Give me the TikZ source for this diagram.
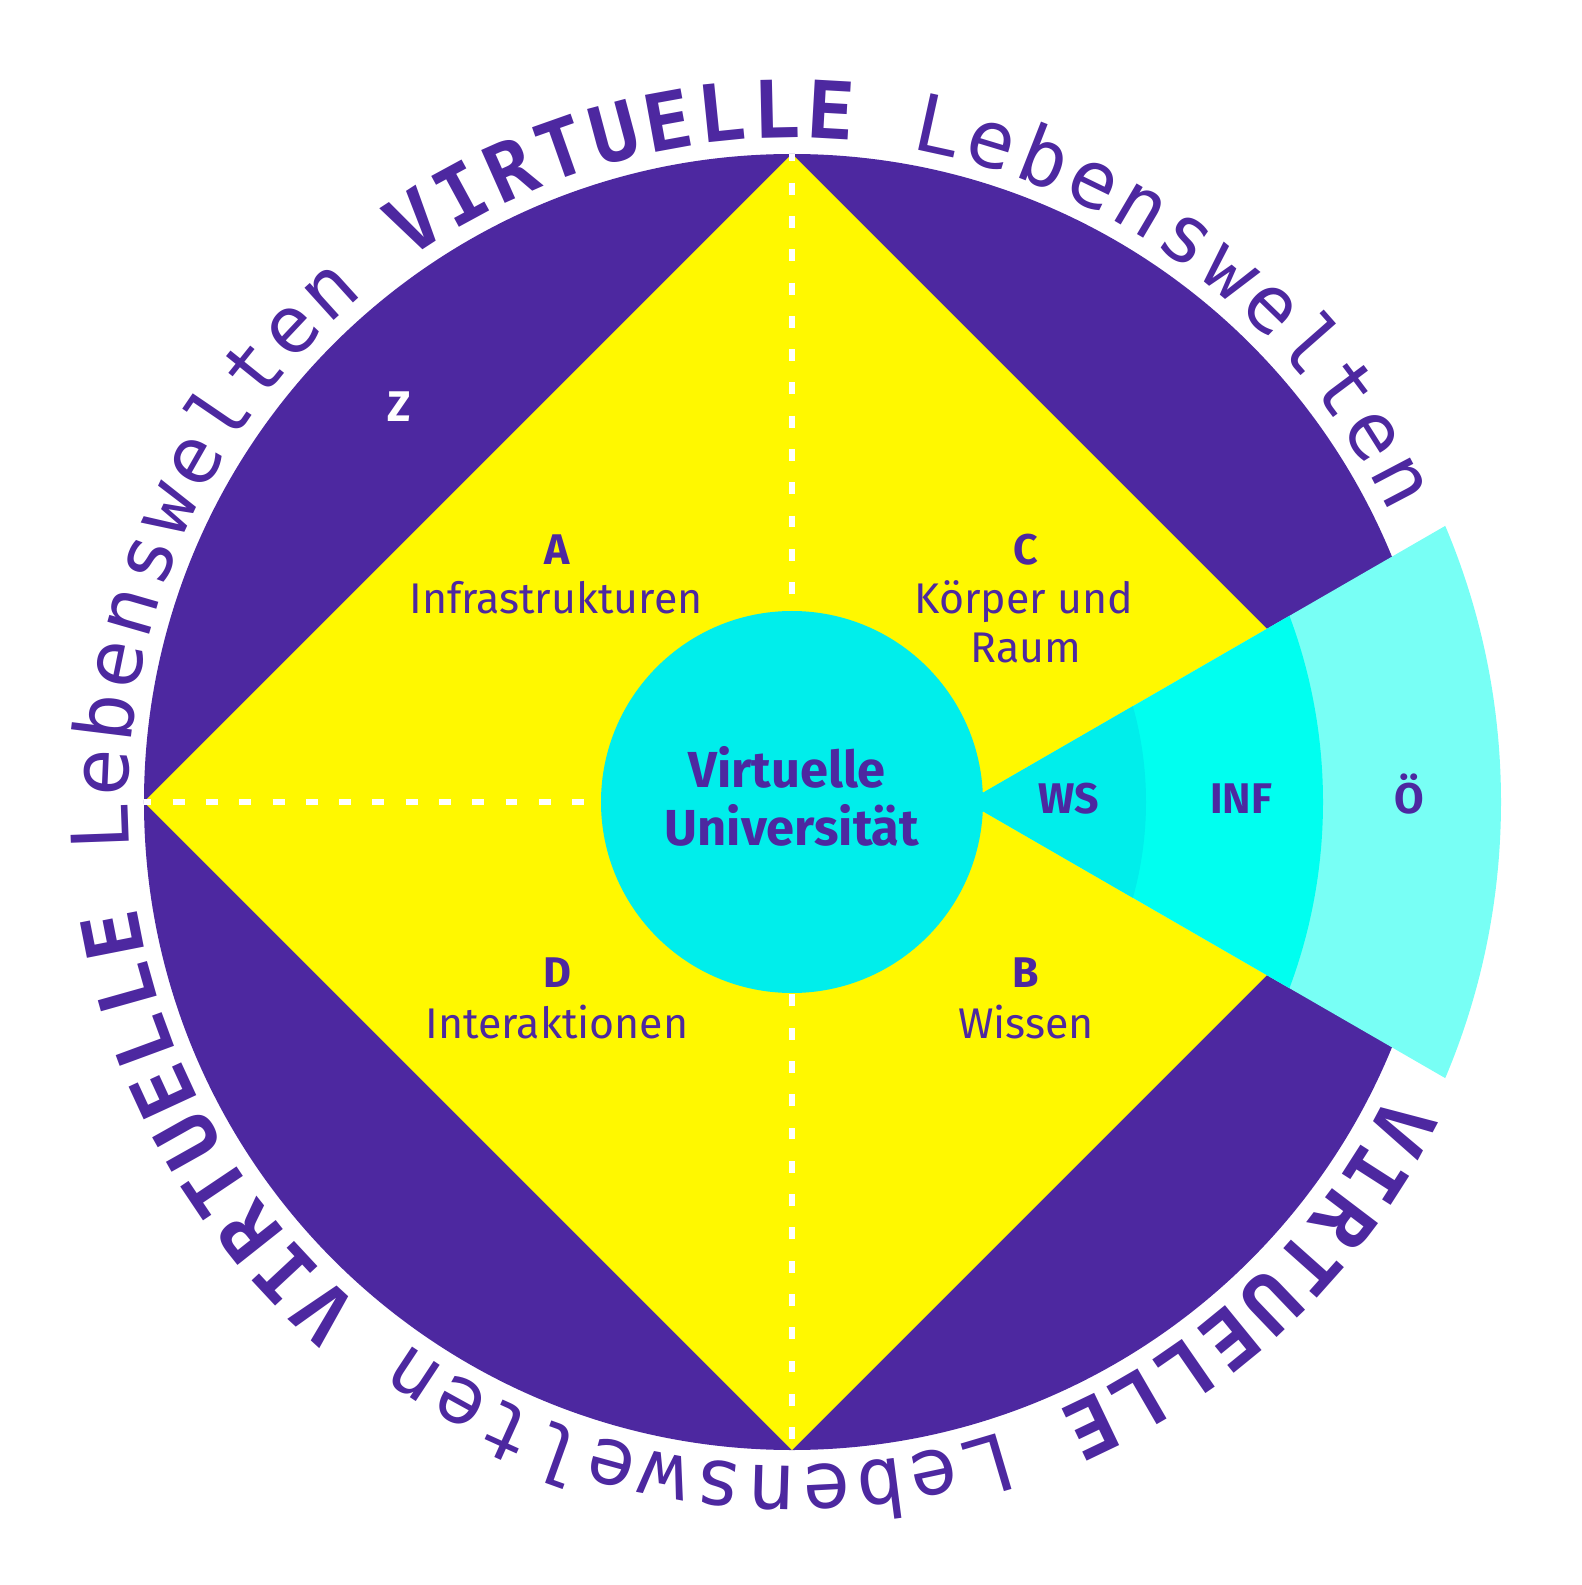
\documentclass[tikz,border=0pt]{standalone}
\usepackage{fontspec}
\setmainfont{Fira Sans}
\newfontfamily\ringfont{DejaVu Sans Mono}
\definecolor{lila}{RGB}{77,40,160}
\definecolor{gelb}{RGB}{255,248,0}
\definecolor{tuerkis}{RGB}{0,238,235}
\definecolor{cyanhell}{RGB}{0,255,240}
\definecolor{cyanblass}{RGB}{120,255,245}
\begin{document}
\begin{tikzpicture}[lbl/.style={text=lila, inner sep=0, anchor=base, font=\fontsize{12.2}{14}\selectfont},
    lblb/.style={lbl, font=\fontsize{12.2}{14}\selectfont\bfseries},
    ringreg/.style={text=lila, inner sep=0, anchor=base, font=\ringfont\fontsize{22.6}{26}\selectfont},
    ringbold/.style={ringreg, font=\ringfont\bfseries\fontsize{22.6}{26}\selectfont},
    strich/.style={white, line width=1.7pt, dash pattern=on 3.4pt off 6.07pt}]
    \useasboundingbox (-7.92,-7.83) rectangle (7.89,8.02);
    
    \fill[lila] (0,0) circle (6.48);
    \fill[gelb] (0,6.48)--(-6.48,0)--(0,-6.48)--(6.48,0)--cycle;
    
    \draw[strich, dash phase=1.3pt] (0,6.48)--(0,0);
    \draw[strich, dash phase=1.3pt] (-6.48,0)--(0,0);
    \draw[strich, dash phase=6.35pt] (0,-6.48)--(0,0);
    
    \begin{scope}
        \clip (1.75,0)--++(30:7)--++(0,-7)--cycle;
        \fill[cyanblass] (0,0) circle (7.09);
        \fill[cyanhell] (0,0) circle (5.31);
        \fill[tuerkis] (0,0) circle (3.54);
    \end{scope}
    \fill[tuerkis] (0,0) circle (1.91);
    
    \foreach \r in {0,1,2}
    {
        \foreach \c [count=\i from 0] in {V,I,R,T,U,E,L,L,E}
        {
            \pgfmathsetmacro\w{-28.1-4.54*(23*\r+\i)}
            \pgfmathsetmacro\rot{\w-90}
            \node[ringbold, rotate=\rot] (ring\r-\i) at (\w:6.64) {\c};
        }
        \foreach \c [count=\i from 10] in {L,e,b,e,n,s,w,e,l,t,e,n}
        {
            \pgfmathsetmacro\w{-28.1-4.54*(23*\r+\i)}
            \pgfmathsetmacro\rot{\w-90}
            \node[ringreg, rotate=\rot] (ring\r-\i) at (\w:6.64) {\c};
        }
    }
    
    \node[lblb, text=white] (z) at (-3.93,3.80) {Z};
    
    \node[lblb] (a) at (-2.35,2.37) {A};
    \node[lbl] (a1) at (-2.36,1.88) {Infrastrukturen};
    \node[lblb] (c) at (2.34,2.37) {C};
    \node[lbl] (c1) at (2.32,1.88) {Körper und};
    \node[lbl] (c2) at (2.34,1.39) {Raum};
    \node[lblb] (d) at (-2.35,-1.85) {D};
    \node[lbl] (d1) at (-2.35,-2.36) {Interaktionen};
    \node[lblb] (b) at (2.34,-1.85) {B};
    \node[lbl] (b1) at (2.34,-2.36) {Wissen};
    
    \node[lblb, font=\fontsize{14.4}{17}\selectfont\bfseries] (vu1) at (-0.05,0.15) {Virtuelle};
    \node[lblb, font=\fontsize{14.4}{17}\selectfont\bfseries] (vu2) at (0,-0.43) {Universität};
    
    \node[lblb] (ws) at (2.77,-0.12) {WS};
    \node[lblb] (inf) at (4.49,-0.12) {INF};
    \node[lblb] (oe) at (6.17,-0.12) {Ö};
    
\end{tikzpicture}
\end{document}
